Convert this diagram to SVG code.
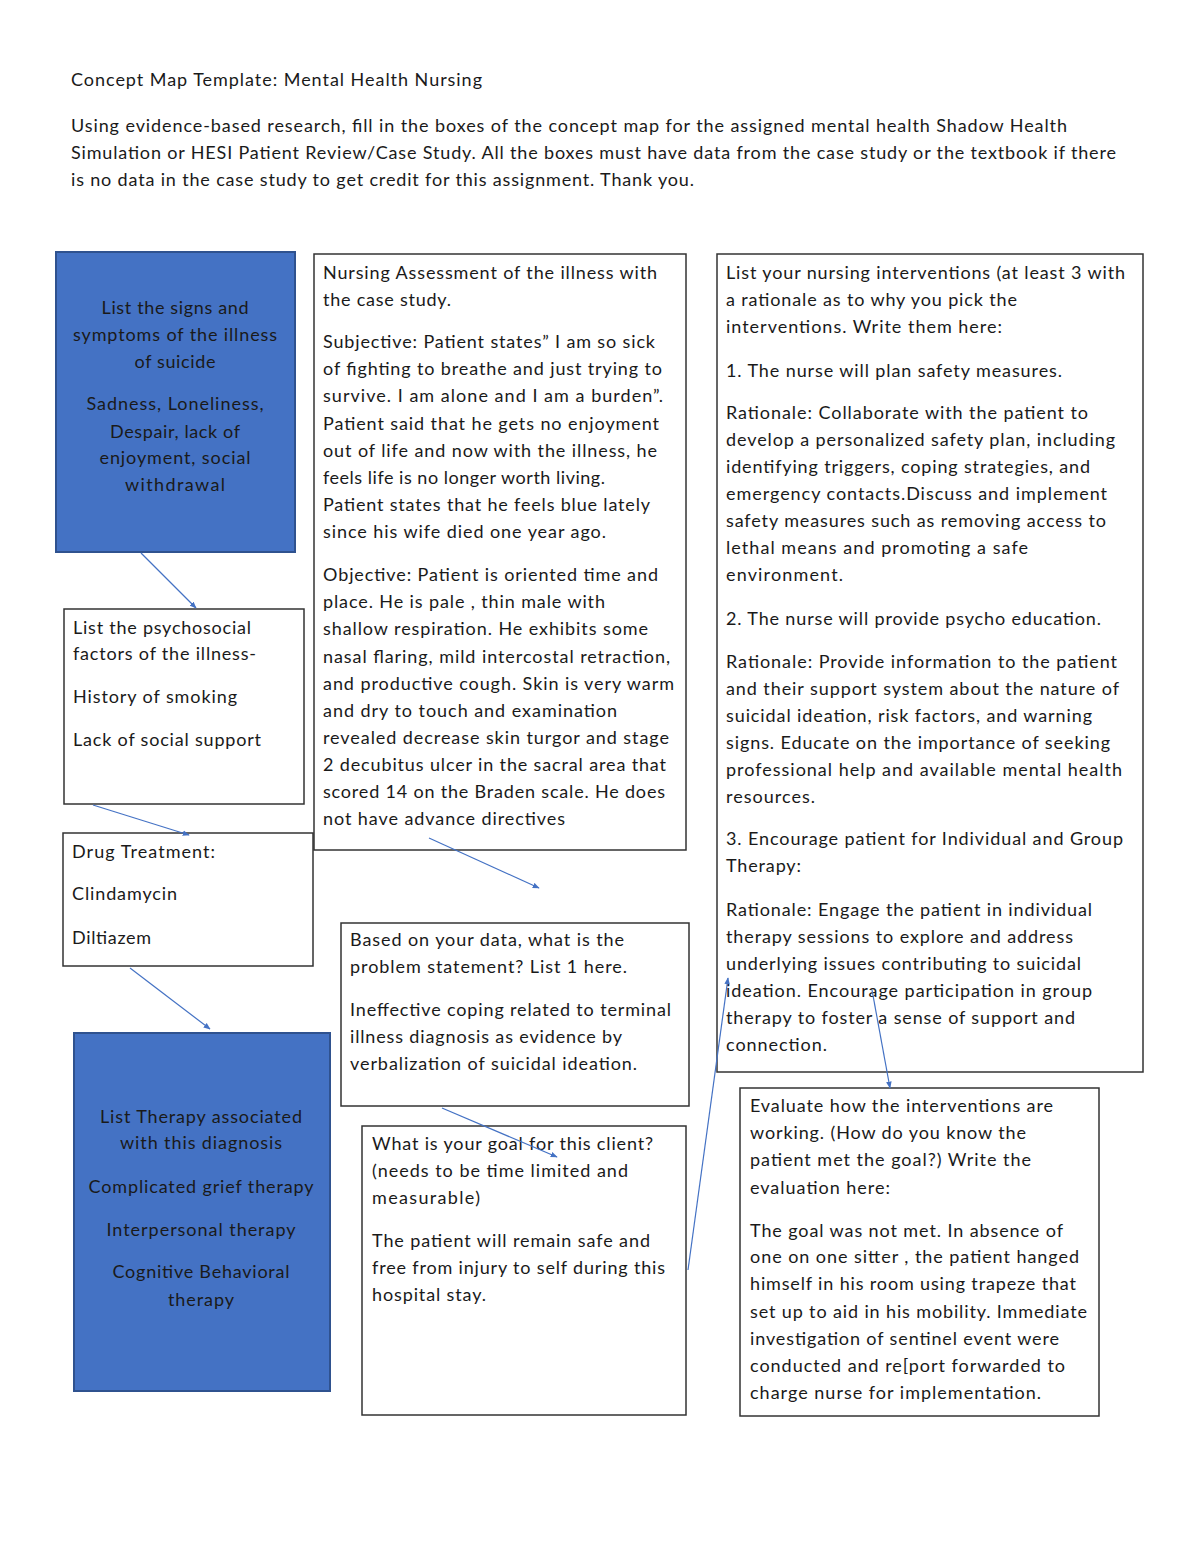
<svg xmlns="http://www.w3.org/2000/svg" width="1200" height="1553" viewBox="0 0 1200 1553">
<defs>
<style>
text{font-family:"Lato","Liberation Sans",sans-serif;font-size:18px;fill:#1a1a1a}
.c{text-anchor:middle}
.box{fill:#ffffff;stroke:#333333;stroke-width:1.5}
.blue{fill:#4472C4;stroke:#2F528F;stroke-width:2}
.con{stroke:#4472C4;stroke-width:1.2;fill:none;marker-end:url(#ah)}
</style>
<marker id="ah" viewBox="0 0 10 10" refX="9" refY="5" markerWidth="7" markerHeight="7" orient="auto" markerUnits="userSpaceOnUse"><path d="M0,1 L10,5 L0,9 z" fill="#4472C4"/></marker>
</defs>
<rect width="1200" height="1553" fill="#ffffff"/>
<g id="header">
<text x="71" y="86" textLength="411">Concept Map Template: Mental Health Nursing</text>
<text x="71" y="132" textLength="996">Using evidence-based research, fill in the boxes of the concept map for the assigned mental health Shadow Health</text>
<text x="71" y="159" textLength="1045">Simulation or HESI Patient Review/Case Study. All the boxes must have data from the case study or the textbook if there</text>
<text x="71" y="186" textLength="623">is no data in the case study to get credit for this assignment. Thank you.</text>
</g>
<g id="signs">
<rect class="blue" x="56" y="252" width="239" height="300"/>
<text class="c" x="175" y="314" textLength="147">List the signs and</text>
<text class="c" x="175" y="341" textLength="204">symptoms of the illness</text>
<text class="c" x="175" y="368" textLength="81">of suicide</text>
<text class="c" x="175" y="410" textLength="177">Sadness, Loneliness,</text>
<text class="c" x="175" y="438" textLength="130">Despair, lack of</text>
<text class="c" x="175" y="464" textLength="151">enjoyment, social</text>
<text class="c" x="175" y="491" textLength="100">withdrawal</text>
</g>
<g id="psychosocial">
<rect class="box" x="64" y="609" width="240" height="195"/>
<text x="73" y="634" textLength="178">List the psychosocial</text>
<text x="73" y="660" textLength="183">factors of the illness-</text>
<text x="73" y="703" textLength="164">History of smoking</text>
<text x="73" y="746" textLength="188">Lack of social support</text>
</g>
<g id="drug">
<rect class="box" x="63" y="833" width="250" height="133"/>
<text x="72" y="858" textLength="143">Drug Treatment:</text>
<text x="72" y="900" textLength="105">Clindamycin</text>
<text x="72" y="944" textLength="79">Diltiazem</text>
</g>
<g id="therapy">
<rect class="blue" x="74" y="1033" width="256" height="358"/>
<text class="c" x="201" y="1123" textLength="202">List Therapy associated</text>
<text class="c" x="201" y="1149" textLength="162">with this diagnosis</text>
<text class="c" x="201" y="1193" textLength="225">Complicated grief therapy</text>
<text class="c" x="201" y="1236" textLength="189">Interpersonal therapy</text>
<text class="c" x="201" y="1278" textLength="177">Cognitive Behavioral</text>
<text class="c" x="201" y="1306" textLength="66">therapy</text>
</g>
<g id="assessment">
<rect class="box" x="314" y="254" width="372" height="596"/>
<text x="323" y="279" textLength="334">Nursing Assessment of the illness with</text>
<text x="323" y="306" textLength="128">the case study.</text>
<text x="323" y="348" textLength="332">Subjective: Patient states” I am so sick</text>
<text x="323" y="375" textLength="339">of fighting to breathe and just trying to</text>
<text x="323" y="402" textLength="340">survive. I am alone and I am a burden”.</text>
<text x="323" y="430" textLength="336">Patient said that he gets no enjoyment</text>
<text x="323" y="457" textLength="334">out of life and now with the illness, he</text>
<text x="323" y="484" textLength="282">feels life is no longer worth living.</text>
<text x="323" y="511" textLength="327">Patient states that he feels blue lately</text>
<text x="323" y="538" textLength="283">since his wife died one year ago.</text>
<text x="323" y="581" textLength="335">Objective: Patient is oriented time and</text>
<text x="323" y="608" textLength="282">place. He is pale , thin male with</text>
<text x="323" y="635" textLength="325">shallow respiration. He exhibits some</text>
<text x="323" y="663" textLength="347">nasal flaring, mild intercostal retraction,</text>
<text x="323" y="690" textLength="351">and productive cough. Skin is very warm</text>
<text x="323" y="717" textLength="294">and dry to touch and examination</text>
<text x="323" y="744" textLength="346">revealed decrease skin turgor and stage</text>
<text x="323" y="771" textLength="343">2 decubitus ulcer in the sacral area that</text>
<text x="323" y="798" textLength="342">scored 14 on the Braden scale. He does</text>
<text x="323" y="825" textLength="242">not have advance directives</text>
</g>
<g id="interventions">
<rect class="box" x="717" y="254" width="426" height="818"/>
<text x="726" y="279" textLength="399">List your nursing interventions (at least 3 with</text>
<text x="726" y="306" textLength="291">a rationale as to why you pick the</text>
<text x="726" y="333" textLength="276">interventions. Write them here:</text>
<text x="726" y="377" textLength="336">1. The nurse will plan safety measures.</text>
<text x="726" y="419" textLength="362">Rationale: Collaborate with the patient to</text>
<text x="726" y="446" textLength="389">develop a personalized safety plan, including</text>
<text x="726" y="473" textLength="364">identifying triggers, coping strategies, and</text>
<text x="726" y="500" textLength="381">emergency contacts.Discuss and implement</text>
<text x="726" y="527" textLength="380">safety measures such as removing access to</text>
<text x="726" y="554" textLength="302">lethal means and promoting a safe</text>
<text x="726" y="581" textLength="117">environment.</text>
<text x="726" y="625" textLength="375">2. The nurse will provide psycho education.</text>
<text x="726" y="668" textLength="391">Rationale: Provide information to the patient</text>
<text x="726" y="695" textLength="393">and their support system about the nature of</text>
<text x="726" y="722" textLength="366">suicidal ideation, risk factors, and warning</text>
<text x="726" y="749" textLength="384">signs. Educate on the importance of seeking</text>
<text x="726" y="776" textLength="396">professional help and available mental health</text>
<text x="726" y="803" textLength="89">resources.</text>
<text x="726" y="845" textLength="397">3. Encourage patient for Individual and Group</text>
<text x="726" y="872" textLength="75">Therapy:</text>
<text x="726" y="916" textLength="366">Rationale: Engage the patient in individual</text>
<text x="726" y="943" textLength="347">therapy sessions to explore and address</text>
<text x="726" y="970" textLength="355">underlying issues contributing to suicidal</text>
<text x="726" y="997" textLength="366">ideation. Encourage participation in group</text>
<text x="726" y="1024" textLength="349">therapy to foster a sense of support and</text>
<text x="726" y="1051" textLength="101">connection.</text>
</g>
<g id="problem">
<rect class="box" x="341" y="923" width="348" height="183"/>
<text x="350" y="946" textLength="274">Based on your data, what is the</text>
<text x="350" y="973" textLength="277">problem statement? List 1 here.</text>
<text x="350" y="1016" textLength="321">Ineffective coping related to terminal</text>
<text x="350" y="1043" textLength="272">illness diagnosis as evidence by</text>
<text x="350" y="1070" textLength="287">verbalization of suicidal ideation.</text>
</g>
<g id="goal">
<rect class="box" x="362" y="1126" width="324" height="289"/>
<text x="372" y="1150" textLength="281">What is your goal for this client?</text>
<text x="372" y="1177" textLength="256">(needs to be time limited and</text>
<text x="372" y="1204" textLength="108">measurable)</text>
<text x="372" y="1247" textLength="278">The patient will remain safe and</text>
<text x="372" y="1274" textLength="293">free from injury to self during this</text>
<text x="372" y="1301" textLength="114">hospital stay.</text>
</g>
<g id="evaluation">
<rect class="box" x="740" y="1088" width="359" height="328"/>
<text x="750" y="1112" textLength="303">Evaluate how the interventions are</text>
<text x="750" y="1139" textLength="276">working. (How do you know the</text>
<text x="750" y="1166" textLength="281">patient met the goal?) Write the</text>
<text x="750" y="1194" textLength="140">evaluation here:</text>
<text x="750" y="1237" textLength="313">The goal was not met. In absence of</text>
<text x="750" y="1263" textLength="329">one on one sitter , the patient hanged</text>
<text x="750" y="1290" textLength="326">himself in his room using trapeze that</text>
<text x="750" y="1318" textLength="337">set up to aid in his mobility. Immediate</text>
<text x="750" y="1345" textLength="309">investigation of sentinel event were</text>
<text x="750" y="1372" textLength="315">conducted and re[port forwarded to</text>
<text x="750" y="1399" textLength="291">charge nurse for implementation.</text>
</g>
<g id="connectors">
<line class="con" x1="141" y1="553" x2="196" y2="608"/>
<line class="con" x1="93" y1="805" x2="189" y2="835"/>
<line class="con" x1="130" y1="968" x2="210" y2="1029"/>
<line class="con" x1="429" y1="838" x2="539" y2="888"/>
<line class="con" x1="442" y1="1108" x2="557" y2="1157"/>
<line class="con" x1="688" y1="1270" x2="728" y2="978"/>
<line class="con" x1="872" y1="990" x2="890" y2="1088"/>
</g>
</svg>
